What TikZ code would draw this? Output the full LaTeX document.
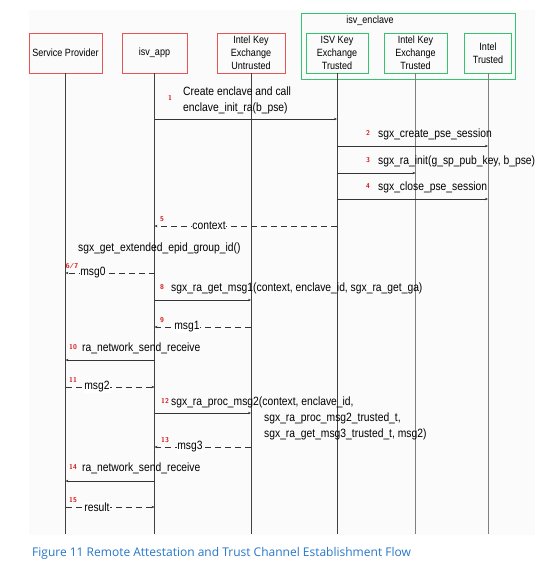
\documentclass[tikz,border=0pt]{standalone}
\usepackage{fontspec}
\setmainfont{Liberation Sans}
\newfontfamily\diagfont[FakeStretch=0.86]{Liberation Sans}
\newfontfamily\capfont{Open Sans}
\usetikzlibrary{arrows.meta}
\definecolor{boxred}{RGB}{232,84,84}
\definecolor{boxgreen}{RGB}{50,196,110}
\definecolor{numred}{RGB}{210,20,20}
\definecolor{capblue}{RGB}{38,118,200}
\begin{document}
\begin{tikzpicture}[x=1pt, y=-1pt, font=\diagfont\fontsize{12}{16}\selectfont,
  actor/.style={draw=#1, line width=0.9pt, minimum height=40pt, align=center, inner sep=1pt,
    font=\diagfont\fontsize{10.5}{13}\selectfont},
  msg/.style={draw=black!80, line width=0.45pt, -{Stealth[length=3pt,width=2.4pt]}},
  reply/.style={msg, dash pattern=on 6pt off 4pt},
  num/.style={text=numred, font=\sffamily\bfseries\fontsize{7}{7}\selectfont, inner sep=0pt},
  lbl/.style={anchor=base west, inner sep=0pt},
  onln/.style={fill=white, inner sep=0.6pt}]
  \useasboundingbox (0,0) rectangle (558,571);
  \fill[black!1.5] (29,10) rectangle (535,535);
  % lanes
  \node[actor=boxred, minimum width=73pt] (sp) at (65.5,53) {Service Provider};
  \node[actor=boxred, minimum width=65pt] (app) at (154.5,53) {isv\_app};
  \node[actor=boxred, minimum width=68pt] (ut) at (251,53) {Intel Key\\Exchange\\Untrusted};
  \node[actor=boxgreen, minimum width=62pt] (ikt) at (337,53) {ISV Key\\Exchange\\Trusted};
  \node[actor=boxgreen, minimum width=63pt] (kt) at (415.5,53) {Intel Key\\Exchange\\Trusted};
  \node[actor=boxgreen, minimum width=47pt] (it) at (488,53) {Intel\\Trusted};
  \node[font=\diagfont\fontsize{10.5}{12}\selectfont] (encll) at (370,21) {isv\_enclave};
  \draw[color=boxgreen, line width=1pt] (301,13) -- (515,13) -- (515,79) -- (301,79) -- cycle;
  \foreach \n/\c in {sp/black!75, app/black!75, ut/black!75, ikt/black!75, kt/black!50, it/black!50}
    \draw[\c, line width=0.6pt] (\n.south) -- (\n.south |- 0,534);
  % calls
  \foreach \y/\a/\b in {119/app/ikt, 146/ikt/it, 173/ikt/kt, 199/ikt/it, 300/app/ut, 360/app/sp, 413/app/ut, 481/app/sp}
    \draw[msg] (\a |- 0,\y) -- (\b |- 0,\y);
  % returns
  \foreach \y/\a/\b/\t/\x in {226/ikt/app/context/209, 273/app/sp/msg0/93, 327/ut/app/msg1/187, 387/sp/app/msg2/97, 447/ut/app/msg3/190, 507/sp/app/result/97} {
    \draw[reply] (\a |- 0,\y) -- (\b |- 0,\y);
    \node[onln] at (\x,\y) {\t};
  }
  % numbers
  \foreach \x/\y/\t in {170/98/1, 368/133/2, 368/160/3, 368/186/4, 162/219/5, 72/266/6\textfractionsolidus7, 162/287/8, 162/320/9,
    73/347/10, 73/380/11, 165/401/12, 165/440/13, 73/467/14, 73/500/15}
    \node[num] at (\x,\y) {\t};
  % texts
  \node[lbl] (t1a) at (183,95) {Create enclave and call};
  \node[lbl] (t1b) at (183,111) {enclave\_init\_ra(b\_pse)};
  \node[lbl] (t2) at (378,137) {sgx\_create\_pse\_session};
  \node[lbl] (t3) at (378,164) {sgx\_ra\_init(g\_sp\_pub\_key, b\_pse)};
  \node[lbl] (t4) at (378,190) {sgx\_close\_pse\_session};
  \node[lbl] (t6) at (78,251) {sgx\_get\_extended\_epid\_group\_id()};
  \node[lbl] (t8) at (171,291) {sgx\_ra\_get\_msg1(context, enclave\_id, sgx\_ra\_get\_ga)};
  \node[lbl] (t10) at (82,351) {ra\_network\_send\_receive};
  \node[lbl] (t12) at (171,405) {sgx\_ra\_proc\_msg2(context, enclave\_id,};
  \node[lbl] (t12b) at (264,421) {sgx\_ra\_proc\_msg2\_trusted\_t,};
  \node[lbl] (t12c) at (264,437) {sgx\_ra\_get\_msg3\_trusted\_t, msg2)};
  \node[lbl] (t14) at (82,471) {ra\_network\_send\_receive};
  \node[lbl, text=capblue, font=\capfont\fontsize{12}{14}\selectfont] (cap) at (32,556)
    {Figure 11 Remote Attestation and Trust Channel Establishment Flow};
\end{tikzpicture}
\end{document}
